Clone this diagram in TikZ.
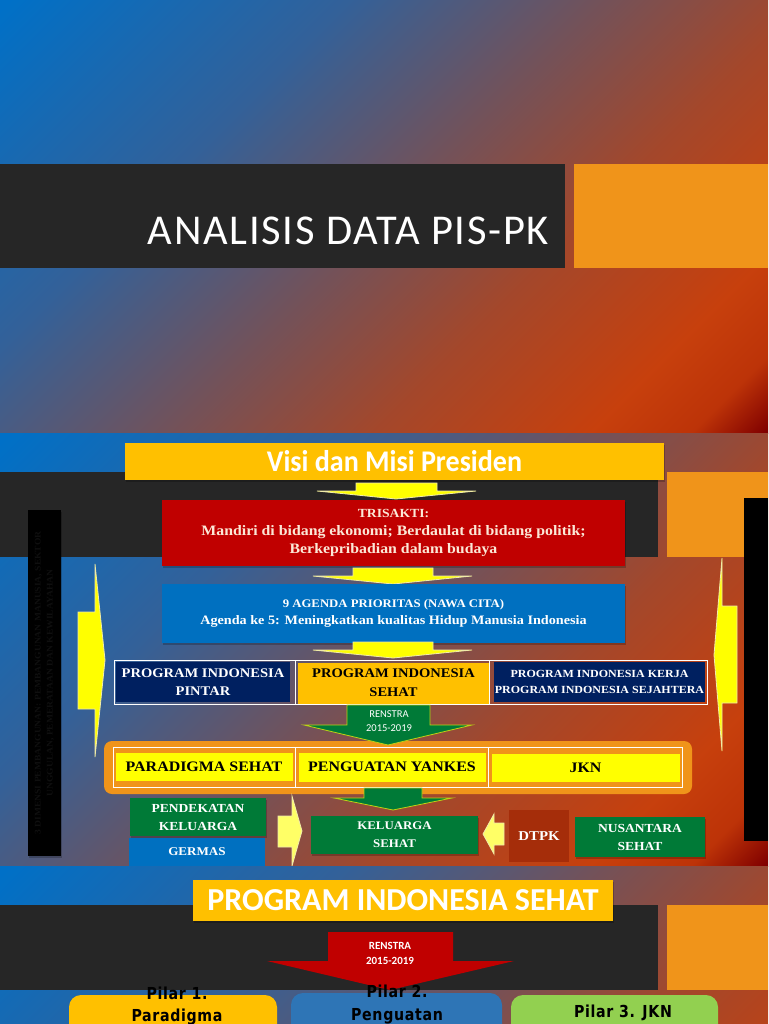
\documentclass[tikz,border=0pt]{standalone}
\usepackage{fontspec}
\setmainfont[FakeStretch=1.1]{Liberation Serif}
\newfontfamily\carl{Carlito}
\newfontfamily\carlc[FakeStretch=.935]{Carlito}
\newfontfamily\carlw[LetterSpace=4]{Carlito}
\newfontfamily\pilarf[LetterSpace=4,FakeStretch=.86]{DejaVu Sans}
\usetikzlibrary{shadows}
\definecolor{band}{RGB}{38,38,38}
\definecolor{orangeb}{RGB}{240,148,26}
\definecolor{goldb}{RGB}{255,192,0}
\definecolor{redb}{RGB}{192,0,0}
\definecolor{blueb}{RGB}{0,112,192}
\definecolor{navyb}{RGB}{0,32,96}
\definecolor{greenb}{RGB}{0,122,55}
\definecolor{paleyl}{RGB}{240,235,170}
\definecolor{yellowx}{RGB}{255,255,0}
\definecolor{yellowlt}{RGB}{255,255,102}
\definecolor{dtpkc}{RGB}{165,45,10}
\definecolor{pale}{RGB}{252,232,215}
\definecolor{greenl}{RGB}{146,208,80}
\definecolor{blue2}{RGB}{46,117,182}
\definecolor{ghost}{RGB}{15,15,15}
\definecolor{greenline}{RGB}{190,210,20}
\pgfdeclarehorizontalshading{slidebg}{100bp}{
 rgb(0bp)=(0,.44,.78);
 rgb(15bp)=(0,.44,.78);
 rgb(35bp)=(.2,.38,.6);
 rgb(50bp)=(.45,.32,.35);
 rgb(62bp)=(.64,.28,.17);
 rgb(75bp)=(.78,.25,.05);
 rgb(81bp)=(.74,.2,.03);
 rgb(85.4bp)=(.5,0,0);
 rgb(100bp)=(.5,0,0)}
\tikzset{
 x=1pt,y=-1pt,
 bx/.style 2 args={minimum width=#1pt,minimum height=#2pt,inner sep=0pt,outer sep=0pt,align=center,anchor=center},
 shad/.style={drop shadow={shadow xshift=1pt,shadow yshift=-2pt,opacity=.22,fill=black}},
 arrowy/.style={fill=yellowx,draw=paleyl,line width=.8pt,line join=miter},
 arrowl/.style={fill=yellowlt,draw=paleyl,line width=.8pt},
 arrowg/.style={fill=greenb,draw=greenline,line width=.8pt},
 cellframe/.style={draw=white,line width=1pt},
 slidetitle/.style={text=white,inner sep=0pt},
 bluetext/.style={text=white,font=\bfseries\fontsize{#1}{18}\selectfont},
 yelcell/.style={fill=yellowx,draw=orangeb,text=black,font=\bfseries\fontsize{14.5}{18}\selectfont},
}
\newcommand{\slidebgrect}[1]{\shade[shading=slidebg,shading angle=-45] (0,#1) rectangle (768,#1+433);}
\begin{document}
\begin{tikzpicture}
\useasboundingbox (0,0) rectangle (768,1024);
\clip (0,0) rectangle (768,1024);
% slide 1
\slidebgrect{0}
\fill[band] (0,164) rectangle (565,268);
\fill[orangeb] (574,164) rectangle (768,268);
\node[slidetitle,anchor=east,font=\carlw\fontsize{42.5}{48}\selectfont] (title1) at (549,231) {ANALISIS DATA PIS-PK};
% slide 2
\begin{scope}
\clip (0,433) rectangle (768,866);
\slidebgrect{433}
\fill[band] (0,472) rectangle (658,557);
\fill[orangeb] (667,472) rectangle (768,557);
\node[bx={539}{37},fill=goldb,shad,text=white,font=\carlc\bfseries\fontsize{30}{34}\selectfont] (visi) at (394.5,461.5) {Visi dan Misi Presiden};
\draw[arrowy] (356,483) -- (437,483) -- (437,491) -- (476,491) -- (396,499) -- (317,491) -- (356,491) -- cycle;
\node[bx={463}{66},fill=redb,shad,text=pale,font=\bfseries\fontsize{14.4}{18}\selectfont] (trisakti) at (393.5,533) {{\fontsize{12.4}{18}\selectfont TRISAKTI:}\\Mandiri di bidang ekonomi; Berdaulat di bidang politik;\\Berkepribadian dalam budaya};
\draw[arrowy] (353,568) -- (433,568) -- (433,576) -- (472,576) -- (393,584) -- (313,576) -- (353,576) -- cycle;
\node[bx={463}{59},fill=blueb,shad,text=white,font=\bfseries\fontsize{12.9}{17}\selectfont] (agenda) at (393.5,613.5) {{\fontsize{11.6}{17}\selectfont 9 AGENDA PRIORITAS (NAWA CITA)}\\Agenda ke 5: Meningkatkan kualitas Hidup Manusia Indonesia};
\draw[arrowy] (353,642) -- (433,642) -- (433,650) -- (472,650) -- (393,658) -- (313,650) -- (353,650) -- cycle;
% program table
\draw[cellframe] (114,660) rectangle (707,704);
\draw[cellframe] (295,660) -- (295,704) (489,660) -- (489,704);
\node[bx={174}{40},fill=navyb,text=white,font=\bfseries\fontsize{13.2}{18}\selectfont] (pintar) at (203,682) {PROGRAM INDONESIA\\PINTAR};
\node[bx={191}{41},fill=goldb,text=black,font=\bfseries\fontsize{13.2}{19}\selectfont] (psehat) at (393.5,683) {PROGRAM INDONESIA\\SEHAT};
\node[bx={211}{40},fill=navyb,text=white,font=\bfseries\fontsize{10.9}{16}\selectfont] (kerja) at (599.5,682) {PROGRAM INDONESIA KERJA\\PROGRAM INDONESIA SEJAHTERA};
% big arrows
\draw[arrowy] (78,612) -- (95,612) -- (95,564) -- (105,660) -- (95,757) -- (95,709) -- (78,709) -- cycle;
\draw[arrowy] (737,606) -- (722,606) -- (722,558) -- (714,655) -- (722,751) -- (722,703) -- (737,703) -- cycle;
% orange panel
\fill[orangeb,rounded corners=8pt] (104,741) rectangle (692,794);
\draw[arrowg] (347,705) -- (430,705) -- (430,725) -- (472,725) -- (388,745) -- (304,725) -- (347,725) -- cycle;
\node[text=white,align=center,inner sep=0pt,font=\carl\fontsize{10.5}{14}\selectfont] (renstra1) at (389,721) {RENSTRA\\2015-2019};
\draw[cellframe] (113,747) rectangle (682,787);
\draw[cellframe] (295,747) -- (295,787) (488,747) -- (488,787);
\node[bx={178}{29},yelcell] (paradigma) at (204,766.5) {PARADIGMA SEHAT};
\node[bx={188}{30},yelcell] (yankes) at (392,767) {PENGUATAN YANKES};
\node[bx={189}{29},yelcell] (jkn) at (585.5,767.5) {JKN};
\draw[arrowg] (364,788) -- (422,788) -- (422,798) -- (452,798) -- (393,810) -- (334,798) -- (364,798) -- cycle;
% lower row
\node[bx={136}{38},fill=greenb,shad,bluetext=12.3] (pendekatan) at (198,817) {PENDEKATAN\\KELUARGA};
\node[bx={136}{40},fill=blueb] (germasbox) at (197,858) {};
\node[inner sep=0pt,bluetext=11.9] (germas) at (197,852) {GERMAS};
\draw[arrowl] (278,816) -- (292,816) -- (292,796) -- (302,831) -- (292,866) -- (292,847) -- (278,847) -- cycle;
\node[bx={167}{38},fill=greenb,shad,bluetext=11.7] (ksehat) at (394.5,835) {KELUARGA\\SEHAT};
\draw[arrowl] (504,823) -- (494,823) -- (494,814) -- (483,834) -- (494,854) -- (494,845) -- (504,845) -- cycle;
\node[bx={60}{52},fill=dtpkc,bluetext=13.5] (dtpk) at (539,836) {DTPK};
\node[bx={130}{40},fill=greenb,shad,bluetext=12.3] (nusantara) at (640,837) {NUSANTARA\\SEHAT};
% black bars
\node[bx={33}{346},fill=black,shad] (dimensibar) at (44.5,683) {};
\node[inner sep=0pt,text=ghost,rotate=90,align=center,font=\bfseries\fontsize{8.7}{12}\selectfont] (dimensi) at (44.5,683) {3 DIMENSI PEMBANGUNAN: PEMBANGUNAN MANUSIA, SEKTOR\\UNGGULAN, PEMERATAAN DAN KEWILAYAHAN};
\fill[black] (744,498) rectangle (768,841);
\end{scope}
% slide 3
\begin{scope}
\clip (0,866) rectangle (768,1024);
\slidebgrect{866}
\fill[band] (0,905) rectangle (658,990);
\fill[orangeb] (667,905) rectangle (768,990);
\node[bx={420}{41},fill=goldb,shad,text=white,font=\carl\bfseries\fontsize{32}{36}\selectfont] (pis) at (403,900.5) {PROGRAM INDONESIA SEHAT};
\fill[redb] (328,932) -- (453,932) -- (453,961) -- (514,961) -- (390,990) -- (267,961) -- (328,961) -- cycle;
\node[text=white,align=center,inner sep=0pt,font=\carl\bfseries\fontsize{11}{15}\selectfont] (renstra2) at (390,953.5) {RENSTRA\\2015-2019};
\fill[goldb,rounded corners=12pt] (69,995) rectangle (277,1050);
\fill[blue2,rounded corners=12pt] (291,993) rectangle (502,1050);
\fill[greenl,rounded corners=12pt] (511,995) rectangle (718,1050);
\node[text=black,align=center,inner sep=0pt,anchor=north,font=\pilarf\bfseries\fontsize{16.5}{22}\selectfont] (p1) at (177,987) {Pilar 1.\\Paradigma};
\node[text=black,align=center,inner sep=0pt,anchor=north,font=\pilarf\bfseries\fontsize{16.5}{23}\selectfont] (p2) at (397,985) {Pilar 2.\\Penguatan};
\node[text=black,inner sep=0pt,font=\pilarf\bfseries\fontsize{16.5}{22}\selectfont] (p3) at (623,1013) {Pilar 3. JKN};
\end{scope}
\end{tikzpicture}
\end{document}
